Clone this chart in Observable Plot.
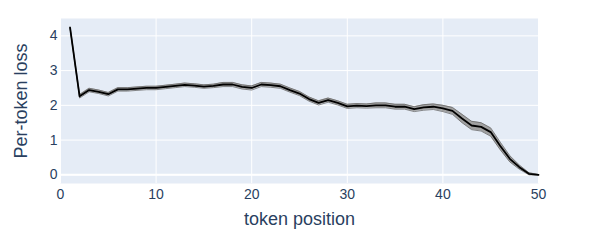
<!DOCTYPE html>
<html>
<head>
<meta charset="utf-8">
<script src="https://cdn.jsdelivr.net/npm/d3@7"></script>
<script src="https://cdn.jsdelivr.net/npm/@observablehq/plot@0.6"></script>
<style>
  body { margin: 0; background: #fff; }
</style>
</head>
<body>
<div id="chart"></div>
<script>
const positions = d3.range(1, 51);
const meanLoss = [
  4.24, 2.26, 2.44, 2.39, 2.32, 2.46, 2.46, 2.48, 2.50, 2.50,
  2.53, 2.56, 2.59, 2.57, 2.54, 2.56, 2.60, 2.60, 2.53, 2.50,
  2.60, 2.58, 2.55, 2.44, 2.34, 2.18, 2.07, 2.15, 2.07, 1.97,
  1.99, 1.98, 2.00, 2.00, 1.96, 1.96, 1.89, 1.94, 1.96, 1.91,
  1.84, 1.62, 1.42, 1.38, 1.23, 0.83, 0.46, 0.22, 0.03, 0.00
];
const bandHalf = [
  0.02, 0.05, 0.05, 0.05, 0.05, 0.05, 0.05, 0.05, 0.05, 0.05,
  0.05, 0.05, 0.05, 0.05, 0.05, 0.05, 0.06, 0.06, 0.06, 0.06,
  0.06, 0.06, 0.06, 0.06, 0.06, 0.06, 0.06, 0.06, 0.06, 0.06,
  0.06, 0.06, 0.07, 0.07, 0.07, 0.07, 0.07, 0.08, 0.08, 0.09,
  0.10, 0.12, 0.12, 0.12, 0.12, 0.11, 0.09, 0.06, 0.03, 0.01
];
const xTicks = [0, 10, 20, 30, 40, 50];
const yTicks = [0, 1, 2, 3, 4];
const xTitle = "token position";
const yTitle = "Per-token loss";

const data = positions.map((p, i) => ({
  pos: p,
  mean: meanLoss[i],
  lo: meanLoss[i] - bandHalf[i],
  hi: meanLoss[i] + bandHalf[i]
}));

const textColor = "#2a3f5f";

const chart = Plot.plot({
  width: 598,
  height: 243,
  marginLeft: 60,
  marginRight: 60,
  marginTop: 18,
  marginBottom: 60,
  style: { fontFamily: "'Liberation Sans', Arial, sans-serif", fontSize: "14px", color: textColor, background: "white" },
  x: { domain: [0, 50], label: null },
  y: { domain: [-0.25, 4.5], label: null },
  marks: [
    Plot.frame({ fill: "#E5ECF6", stroke: "none" }),
    Plot.gridX(xTicks, { stroke: "white", strokeOpacity: 1, strokeWidth: 1 }),
    Plot.gridY(yTicks, { stroke: "white", strokeOpacity: 1, strokeWidth: 1 }),
    Plot.ruleY([0], { stroke: "white", strokeWidth: 2 }),
    Plot.areaY(data, { x: "pos", y1: "lo", y2: "hi", fill: "#a0a0a0", fillOpacity: 1 }),
    Plot.line(data, { x: "pos", y: "lo", stroke: "#6a6a6a", strokeWidth: 0.8 }),
    Plot.line(data, { x: "pos", y: "hi", stroke: "#6a6a6a", strokeWidth: 0.8 }),
    Plot.line(data, { x: "pos", y: "mean", stroke: "black", strokeWidth: 1.8 }),
    Plot.axisX(xTicks, { tickSize: 0, tickPadding: 6, fill: textColor, fontSize: 14, label: null }),
    Plot.axisY(yTicks, { tickSize: 0, tickPadding: 3, fill: textColor, fontSize: 14, label: null }),
    Plot.text([xTitle], { frameAnchor: "bottom", dy: 36, lineAnchor: "middle", textAnchor: "middle", fontSize: 18, fill: textColor }),
    Plot.text([yTitle], { frameAnchor: "left", dx: -39, rotate: -90, lineAnchor: "middle", textAnchor: "middle", fontSize: 18, fill: textColor })
  ]
});

document.getElementById("chart").appendChild(chart);
</script>
</body>
</html>
